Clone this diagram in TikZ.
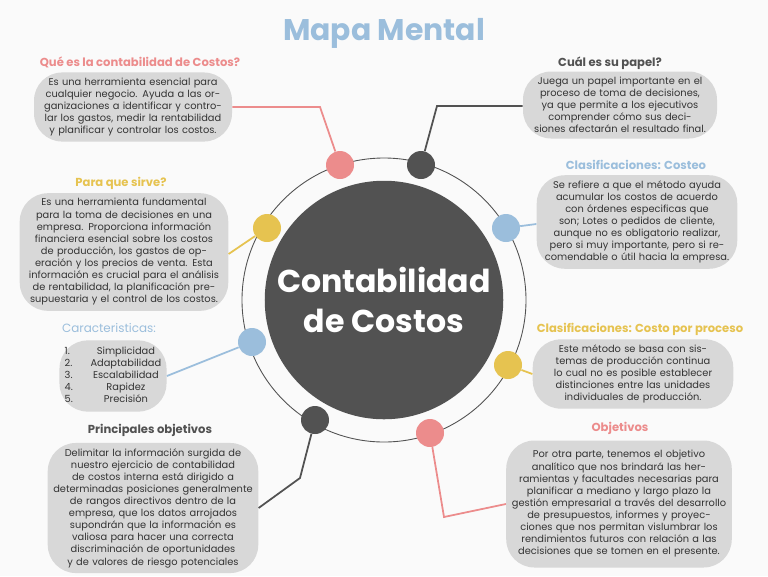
\documentclass[tikz,border=0pt]{standalone}
\usepackage{fontspec}
\setmainfont{Poppins}
\usetikzlibrary{positioning}
\definecolor{rosa}{RGB}{236,140,140}
\definecolor{amarillo}{RGB}{230,195,80}
\definecolor{celeste}{RGB}{155,190,220}
\definecolor{oscuro}{RGB}{82,82,82}
\definecolor{caja}{RGB}{216,216,216}
\definecolor{fondo}{RGB}{250,250,250}
\begin{document}
\begin{tikzpicture}[x=0.02cm,y=-0.02cm]
				\tikzstyle{Box} = [rectangle, rounded corners=16pt, fill=caja, align=center, inner sep=3pt, text=black!80, font=\fontsize{5.6}{6.9}\selectfont]
				\tikzstyle{Title} = [font=\fontsize{6.6}{8}\selectfont\bfseries]
				\tikzstyle{Dot} = [circle, minimum size=28*0.02cm, inner sep=0pt]
				\tikzstyle{link} = [line width=1pt]
				
				\fill [fondo] (0,0) rectangle (768,576);
				\node (tit) [text=celeste, font=\fontsize{17}{20}\selectfont\bfseries] at (384,33) {Mapa Mental};
				\draw [oscuro, line width=0.5pt] (384,300) circle (142*0.02cm);
				\node (centro) [circle, fill=oscuro, minimum size=236*0.02cm, text=white, align=center, font=\fontsize{18}{23}\selectfont\bfseries] at (384,300) {Contabilidad\\de Costos};
				
				\node (d1) [Dot, fill=rosa] at (340,165) {};
				\node (d2) [Dot, fill=oscuro] at (421,165) {};
				\node (d3) [Dot, fill=celeste] at (506,228) {};
				\node (d4) [Dot, fill=amarillo] at (267,228) {};
				\node (d5) [Dot, fill=celeste] at (252,342) {};
				\node (d6) [Dot, fill=amarillo] at (508,365) {};
				\node (d7) [Dot, fill=rosa] at (430,433) {};
				\node (d8) [Dot, fill=oscuro] at (315,420) {};
				
				\node (b1) [Box, minimum width=198*0.02cm, minimum height=66*0.02cm, text width=180*0.02cm] at (133,107) {Es una herramienta esencial para cualquier negocio. Ayuda a las organizaciones a identificar y controlar los gastos, medir la rentabilidad y planificar y controlar los costos.};
				\node (t1) [Title, text=rosa] at (140,62) {Qué es la contabilidad de Costos?};
				\node (b2) [Box, minimum width=194*0.02cm, minimum height=67*0.02cm, text width=180*0.02cm] at (620,105) {Juega un papel importante en el proceso de toma de decisiones, ya que permite a los ejecutivos comprender cómo sus decisiones afectarán el resultado final.};
				\node (t2) [Title, text=oscuro] at (610,63) {Cuál es su papel?};
				\node (b3) [Box, minimum width=200*0.02cm, minimum height=91*0.02cm, text width=190*0.02cm] at (637,222) {Se refiere a que el método ayuda acumular los costos de acuerdo con órdenes especificas que son; Lotes o pedidos de cliente, aunque no es obligatorio realizar, pero si muy importante, pero si recomendable o útil hacia la empresa.};
				\node (t3) [Title, text=celeste] at (636,165) {Clasificaciones: Costeo};
				\node (b4) [Box, minimum width=200*0.02cm, minimum height=115*0.02cm, text width=198*0.02cm] at (124,252) {Es una herramienta fundamental para la toma de decisiones en una empresa. Proporciona información financiera esencial sobre los costos de producción, los gastos de operación y los precios de venta. Esta información es crucial para el análisis de rentabilidad, la planificación presupuestaria y el control de los costos.};
				\node (t4) [Title, text=amarillo] at (121,183) {Para que sirve?};
				\node (b5) [Box, minimum width=107*0.02cm, minimum height=71*0.02cm] at (113,376) {\begin{tabular}{@{}l@{\hspace{10pt}}c@{}}1. & Simplicidad\\ 2. & Adaptabilidad\\ 3. & Escalabilidad\\ 4. & Rapidez\\ 5. & Precisión\end{tabular}};
				\node (t5) [text=celeste, font=\fontsize{6.8}{8}\selectfont] at (109,328) {Caracteristicas:};
				\node (b6) [Box, minimum width=194*0.02cm, minimum height=67*0.02cm, text width=190*0.02cm] at (633,374) {Este método se basa con sistemas de producción continua lo cual no es posible establecer distinciones entre las unidades individuales de producción.};
				\node (t6) [Title, text=amarillo] at (640,329) {Clasificaciones: Costo por proceso};
				\node (b7) [Box, minimum width=206*0.02cm, minimum height=128*0.02cm, text width=200*0.02cm] at (153,508) {Delimitar la información surgida de nuestro ejercicio de contabilidad de costos interna está dirigido a determinadas posiciones generalmente de rangos directivos dentro de la empresa, que los datos arrojados supondrán que la información es valiosa para hacer una correcta discriminación de oportunidades y de valores de riesgo potenciales};
				\node (t7) [Title, text=oscuro] at (150,430) {Principales objetivos};
				\node (b8) [Box, minimum width=219*0.02cm, minimum height=127*0.02cm, text width=215*0.02cm] at (619,504) {Por otra parte, tenemos el objetivo analítico que nos brindará las herramientas y facultades necesarias para planificar a mediano y largo plazo la gestión empresarial a través del desarrollo de presupuestos, informes y proyecciones que nos permitan vislumbrar los rendimientos futuros con relación a las decisiones que se tomen en el presente.};
				\node (t8) [Title, text=rosa] at (620,428) {Objetivos};
				
				\coordinate (k1) at (320,107);
				\coordinate (k2) at (437,106);
				\coordinate (k7) at (444,517);
				\coordinate (k8) at (300,478);
				\draw [link, rosa] (d1) -- (k1) -- (b1.east |- k1);
				\draw [link, oscuro] (d2) -- (k2) -- (b2.west |- k2);
				\draw [link, celeste] (d3) -- (b3.west |- 0,224);
				\draw [link, amarillo] (d4) -- (b4.east |- 0,254);
				\draw [link, celeste] (d5) -- (b5.east |- 0,376);
				\draw [link, amarillo] (d6) -- (b6.west |- 0,374);
				\draw [link, rosa] (d7) -- (k7) -- (b8.west |- 0,504);
				\draw [link, oscuro] (d8) -- (k8) -- (b7.east |- 0,508);
			\end{tikzpicture}
\end{document}
